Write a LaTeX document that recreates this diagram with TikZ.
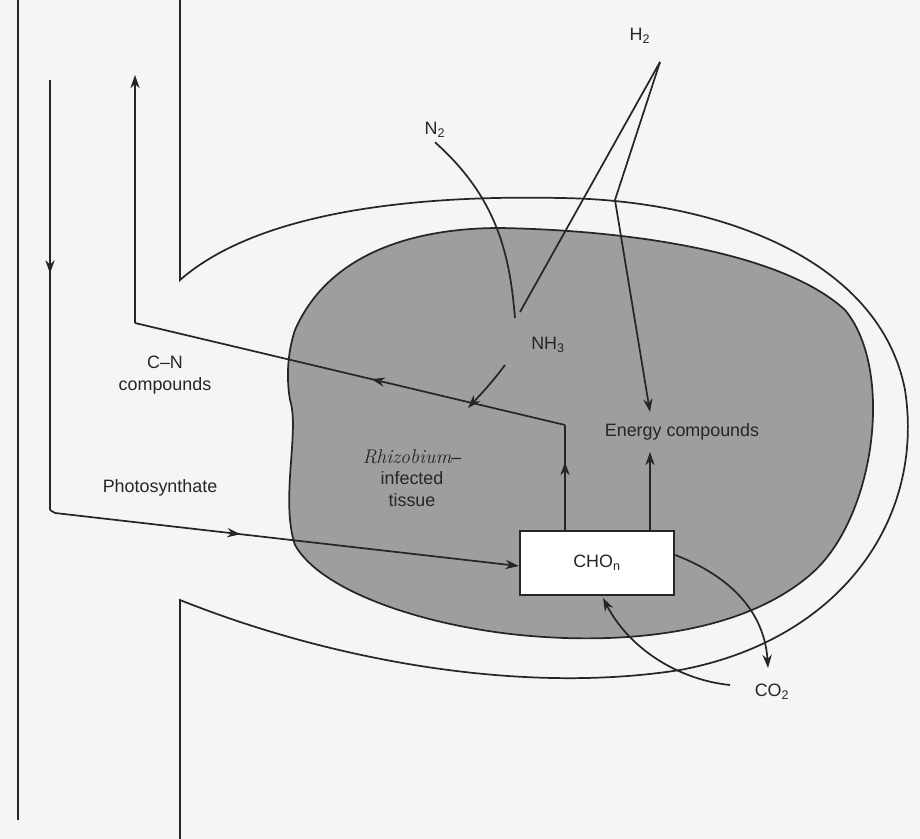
\documentclass[tikz,border=0pt]{standalone}
\usepackage{fontspec}
\setsansfont{Liberation Sans}
\usetikzlibrary{arrows.meta,decorations.markings}
\begin{document}
\begin{tikzpicture}[x=0.0265cm,y=-0.0265cm,
  lbl/.style={font=\sffamily\fontsize{13.5}{16}\selectfont,text=black!85},
  ln/.style={line width=1.3pt,black!85},
  arr/.style={ln,-{Stealth[length=10pt,width=7pt]}},
  mid/.style={ln,postaction={decorate},decoration={markings,mark=at position #1 with {\arrow{Stealth[length=10pt,width=7pt]}}}}]
\useasboundingbox (0,0) rectangle (920,839);
\fill[black!4] (0,0) rectangle (920,839);
% outer nodule
\draw[ln] (180,0) -- (180,280) .. controls (260,210) and (420,195) .. (560,198)
  .. controls (720,200) and (880,260) .. (905,390)
  .. controls (925,520) and (840,640) .. (680,670)
  .. controls (520,695) and (330,660) .. (180,600) -- (180,839);
% inner tissue
\fill[black!38,draw=black!85,line width=1.3pt] (295,330) .. controls (330,250) and (420,228) .. (500,228)
  .. controls (620,230) and (780,250) .. (845,310)
  .. controls (895,370) and (875,520) .. (810,575)
  .. controls (740,635) and (620,645) .. (520,635)
  .. controls (420,625) and (320,590) .. (295,545)
  .. controls (280,500) and (300,430) .. (290,400) .. controls (285,370) and (290,345) .. (295,330);
% left wall
\draw[ln] (18,0) -- (18,820);
% downward phloem / photosynthate
\coordinate (pa) at (50,80);
\coordinate (pb) at (50,510);
\coordinate (pc) at (55,513);
\node[draw=black!85,line width=1.3pt,fill=white,minimum width=4.1cm,minimum height=1.7cm,inner sep=0pt] (cho) at (597,563) {};
\node[lbl] at (597,563) {CHO\textsubscript{n}};
\draw[mid=0.45] (pa) -- (pb);
\draw[ln] (pb) -- (pc);
\draw[mid=0.4,-{Stealth[length=10pt,width=7pt]}] (pc) -- (cho.west |- 0,566);
% C-N compounds
\coordinate (cn) at (565,425);
\draw[arr] (cho.north -| 565,0) -- (565,462);
\draw[ln] (565,465) -- (cn);
\draw[mid=0.45] (cn) -- (135,323);
\draw[arr] (135,323) -- (135,75);
% N2, H2, NH3
\node[lbl] (n2) at (435,130) {N\textsubscript{2}};
\node[lbl] (h2) at (640,36) {H\textsubscript{2}};
\node[lbl] (nh3) at (548,345) {NH\textsubscript{3}};
\draw[ln] (n2.south) .. controls (500,200) and (510,260) .. (515,318);
\draw[ln] (660,62) -- (520,312);
\node[lbl] (en) at (682,432) {Energy compounds};
\draw[arr] (660,62) -- (615,200) -- (650,412);
\draw[arr] (cho.north -| 650,0) -- (650,452);
\draw[arr] (505,365) .. controls (490,385) and (480,395) .. (468,408);
% CO2
\node[lbl] (co2) at (772,692) {CO\textsubscript{2}};
\draw[arr] (cho.east |- 0,555) .. controls (740,580) and (765,620) .. (768,668);
\draw[arr] (730,685) .. controls (680,680) and (630,650) .. (603,598);
% labels
\node[lbl,align=center] at (165,375) {C--N\\compounds};
\node[lbl] at (160,488) {Photosynthate};
\node[lbl,align=center] at (412,478) {{\rmfamily\itshape\fontsize{15}{16}\selectfont Rhizobium}--\\infected\\tissue};
\end{tikzpicture}
\end{document}
